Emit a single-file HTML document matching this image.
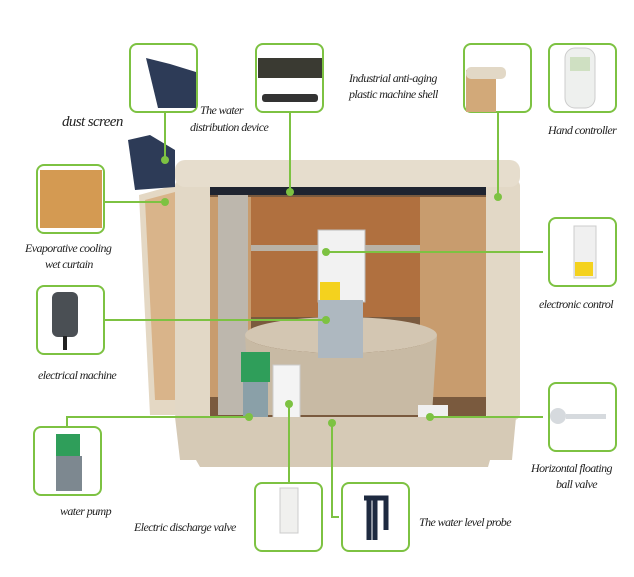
<!DOCTYPE html>
<html><head><meta charset="utf-8"><style>
html,body{margin:0;padding:0;background:#fff}
svg text{font-family:"Liberation Serif",serif;font-style:italic;fill:#222;letter-spacing:-0.6px}
</style></head><body>
<svg width="634" height="572" viewBox="0 0 634 572" xmlns="http://www.w3.org/2000/svg">
<!-- cooler body -->
<!-- side pads -->
<polygon points="139,195 175,185 175,415 150,415" fill="#e4d8c4"/>
<polygon points="145,200 175,192 175,400 155,400" fill="#d9b48a"/>
<polygon points="128,140 150,135 175,150 175,187 135,190" fill="#2d3b57"/>
<!-- interior -->
<rect x="210" y="187" width="276" height="230" fill="#7a5a3e"/>
<rect x="251" y="197" width="169" height="120" fill="#b0703f"/>
<rect x="251" y="245" width="169" height="6" fill="#b9b2a6"/>
<rect x="420" y="197" width="66" height="200" fill="#c89c6e"/>
<rect x="210" y="197" width="41" height="200" fill="#c89c6e"/>
<rect x="218" y="195" width="30" height="220" fill="#bdb7ad"/>
<rect x="210" y="187" width="276" height="8" fill="#1f2430"/>
<!-- bowl -->
<ellipse cx="341" cy="335" rx="96" ry="18" fill="#d3c6b2"/>
<path d="M245,335 L250,415 L432,415 L437,335 A96,18 0 0 1 245,335Z" fill="#c8baa4"/>
<!-- electronic control box -->
<rect x="318" y="230" width="47" height="72" fill="#f2f2f2" stroke="#bbb"/>
<rect x="320" y="282" width="20" height="18" fill="#f4d21e"/>
<rect x="318" y="300" width="45" height="58" fill="#aeb8c0"/>
<!-- pump -->
<rect x="241" y="352" width="29" height="30" fill="#2f9e5a"/>
<rect x="243" y="382" width="25" height="38" fill="#8aa0a8"/>
<!-- discharge -->
<rect x="273" y="365" width="27" height="55" fill="#f4f4f4" stroke="#ccc"/>
<!-- float -->
<rect x="418" y="405" width="30" height="12" fill="#f0f0f0"/>
<!-- posts -->
<rect x="175" y="180" width="35" height="240" rx="6" fill="#e2d8c6"/>
<rect x="486" y="180" width="34" height="240" rx="6" fill="#e2d8c6"/>
<!-- lid -->
<rect x="175" y="160" width="345" height="27" rx="10" fill="#e6ddcd"/>
<!-- base -->
<path d="M175,417 L516,417 L512,460 L490,460 L488,467 L200,467 L196,460 L180,460Z" fill="#d6cab6"/>
<!-- connector lines -->
<g stroke="#7dc242" stroke-width="2" fill="none">
<line x1="165" y1="112" x2="165" y2="160"/>
<line x1="290" y1="112" x2="290" y2="192"/>
<line x1="498" y1="112" x2="498" y2="197"/>
<line x1="103" y1="202" x2="165" y2="202"/>
<line x1="543" y1="252" x2="326" y2="252"/>
<line x1="103" y1="320" x2="326" y2="320"/>
<line x1="543" y1="417" x2="430" y2="417"/>
<polyline points="67,427 67,417 249,417"/>
<line x1="289" y1="404" x2="289" y2="483"/>
<polyline points="332,423 332,517 339,517"/>
</g>
<g fill="#7dc242">
<circle cx="165" cy="160" r="4"/><circle cx="290" cy="192" r="4"/><circle cx="498" cy="197" r="4"/>
<circle cx="165" cy="202" r="4"/><circle cx="326" cy="252" r="4"/><circle cx="326" cy="320" r="4"/>
<circle cx="430" cy="417" r="4"/><circle cx="249" cy="417" r="4"/><circle cx="289" cy="404" r="4"/><circle cx="332" cy="423" r="4"/>
</g>
<!-- boxes -->
<g fill="#fff" stroke="#7dc242" stroke-width="2">
<rect x="130" y="44" width="67" height="68" rx="7"/>
<rect x="256" y="44" width="67" height="68" rx="7"/>
<rect x="464" y="44" width="67" height="68" rx="7"/>
<rect x="549" y="44" width="67" height="68" rx="7"/>
<rect x="37" y="165" width="67" height="68" rx="7"/>
<rect x="549" y="218" width="67" height="68" rx="7"/>
<rect x="37" y="286" width="67" height="68" rx="7"/>
<rect x="549" y="383" width="67" height="68" rx="7"/>
<rect x="34" y="427" width="67" height="68" rx="7"/>
<rect x="255" y="483" width="67" height="68" rx="7"/>
<rect x="342" y="483" width="67" height="68" rx="7"/>
</g>
<!-- box contents -->
<polygon points="146,58 170,64 196,72 196,108 158,108" fill="#2d3b57"/>
<rect x="258" y="58" width="64" height="20" fill="#3a3a32"/>
<rect x="262" y="94" width="56" height="8" rx="3" fill="#333"/>
<rect x="466" y="70" width="30" height="42" fill="#d2a979"/>
<rect x="466" y="67" width="40" height="12" rx="5" fill="#e2d8c6"/>
<rect x="565" y="48" width="30" height="60" rx="10" fill="#eef0ee" stroke="#ccc"/>
<rect x="570" y="57" width="20" height="14" fill="#cfe0c2"/>
<rect x="40" y="170" width="62" height="58" fill="#d49a52"/>
<rect x="574" y="226" width="22" height="52" fill="#f0f0f0" stroke="#ccc"/>
<rect x="575" y="262" width="18" height="14" fill="#f4d21e"/>
<rect x="52" y="292" width="26" height="45" rx="6" fill="#4a4f54"/>
<rect x="63" y="336" width="4" height="14" fill="#222"/>
<circle cx="558" cy="416" r="8" fill="#d6dade"/>
<rect x="566" y="414" width="40" height="5" fill="#d6dade"/>
<rect x="56" y="434" width="24" height="22" fill="#2f9e5a"/>
<rect x="56" y="456" width="26" height="35" fill="#7d8890"/>
<rect x="280" y="488" width="18" height="45" fill="#f0f0ee" stroke="#ccc"/>
<path d="M364,498 L386,498 L386,530 M369,498 L369,540 M375,498 L375,540" stroke="#1e2a40" stroke-width="5" fill="none"/>
<!-- labels -->
<text x="62" y="126" font-size="15">dust screen</text>
<text x="200" y="114" font-size="12">The water</text>
<text x="190" y="131" font-size="12">distribution device</text>
<text x="349" y="82" font-size="12">Industrial anti-aging</text>
<text x="349" y="98" font-size="12">plastic machine shell</text>
<text x="548" y="134" font-size="12">Hand controller</text>
<text x="25" y="252" font-size="12">Evaporative cooling</text>
<text x="45" y="268" font-size="12">wet curtain</text>
<text x="539" y="308" font-size="12">electronic control</text>
<text x="38" y="379" font-size="12">electrical machine</text>
<text x="531" y="472" font-size="12">Horizontal floating</text>
<text x="556" y="488" font-size="12">ball valve</text>
<text x="60" y="515" font-size="12">water pump</text>
<text x="134" y="531" font-size="12">Electric discharge valve</text>
<text x="419" y="526" font-size="12">The water level probe</text>
</svg>
</body></html>
